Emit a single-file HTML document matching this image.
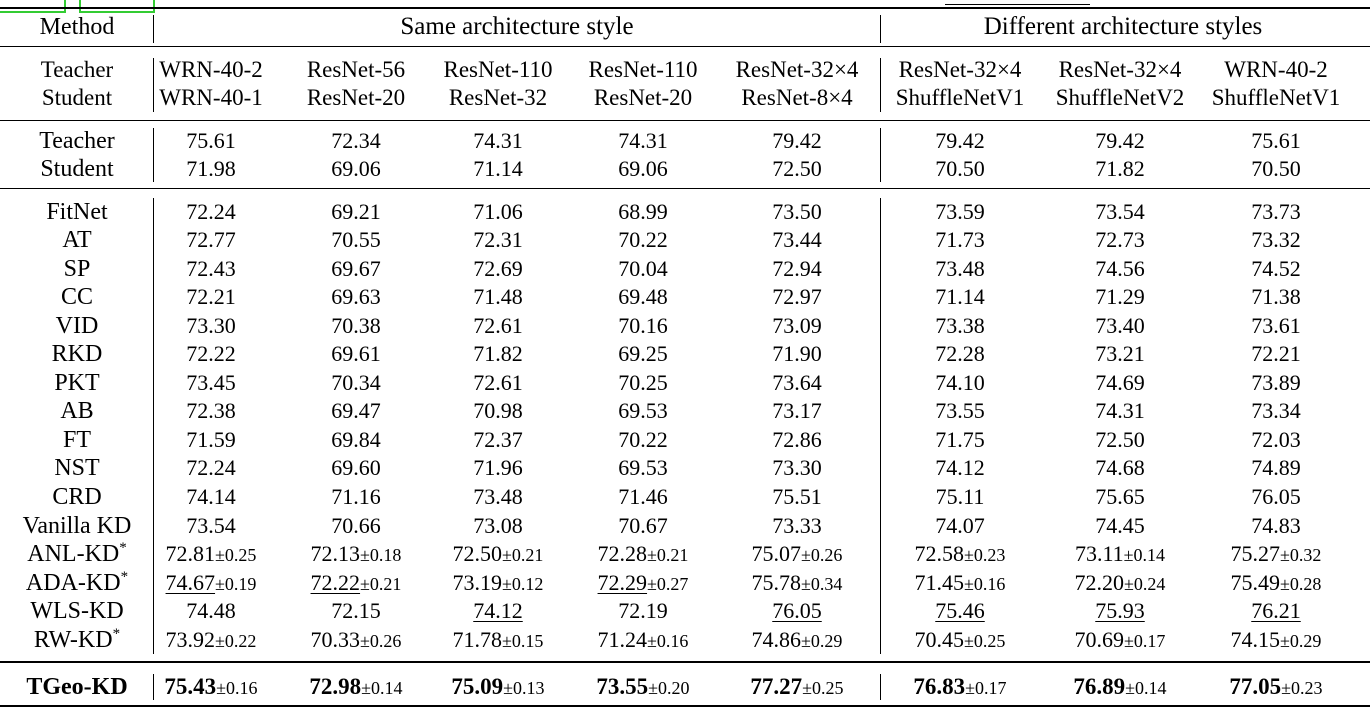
<!DOCTYPE html>
<html><head><meta charset="utf-8"><style>
body{margin:0;width:1370px;height:710px;background:#fff;position:relative;overflow:hidden;font-family:"Liberation Serif",serif;color:#000}
.r{position:absolute;left:0;width:1370px;height:28px;line-height:28px;font-size:22px}
.r span{position:absolute;top:0;width:170px;text-align:center;white-space:nowrap}
.m{left:-8px;font-size:24px}
.t span{font-size:23px}
.a{left:126px}.b{left:271px}.c{left:413px}.d{left:558px}.e{left:712px}
.f{left:875px}.g{left:1035px}.h{left:1191px}
small{font-size:18px}
u{text-decoration:underline;text-underline-offset:3px;text-decoration-thickness:1px}
.hl{position:absolute;left:0;width:1370px;background:#000}
.vl{position:absolute;width:1px;background:#000}
.bold{font-weight:bold}
</style></head><body>
<div style="position:absolute;left:0;top:0;width:64px;height:11px;border:2px solid #3c3;border-top:none;border-left:none"></div>
<div style="position:absolute;left:79px;top:0;width:72px;height:11px;border:2px solid #3c3;border-top:none"></div>
<div style="position:absolute;left:945px;top:4px;width:145px;height:1px;background:#000"></div>
<div class="hl" style="top:7px;height:2px"></div>
<div class="hl" style="top:46px;height:1px"></div>
<div class="hl" style="top:120px;height:1px"></div>
<div class="hl" style="top:188px;height:1px"></div>
<div class="hl" style="top:661px;height:2px"></div>
<div class="hl" style="top:705px;height:2px"></div>
<div class="vl" style="left:153px;top:15px;height:28px"></div>
<div class="vl" style="left:880px;top:15px;height:28px"></div>
<div class="vl" style="left:153px;top:58px;height:54px"></div>
<div class="vl" style="left:880px;top:58px;height:54px"></div>
<div class="vl" style="left:153px;top:128px;height:54px"></div>
<div class="vl" style="left:880px;top:128px;height:54px"></div>
<div class="vl" style="left:153px;top:198px;height:456px"></div>
<div class="vl" style="left:880px;top:198px;height:456px"></div>
<div class="vl" style="left:153px;top:674px;height:26px"></div>
<div class="vl" style="left:880px;top:674px;height:26px"></div>

<div class="r" style="top:13px"><span class="m">Method</span><span style="left:317px;width:400px;font-size:25px">Same architecture style</span><span style="left:923px;width:400px;font-size:25px">Different architecture styles</span></div>
<div class="r t" style="top:56px"><span class="m">Teacher</span><span class="a">WRN-40-2</span><span class="b">ResNet-56</span><span class="c">ResNet-110</span><span class="d">ResNet-110</span><span class="e">ResNet-32×4</span><span class="f">ResNet-32×4</span><span class="g">ResNet-32×4</span><span class="h">WRN-40-2</span></div>
<div class="r t" style="top:84px"><span class="m">Student</span><span class="a">WRN-40-1</span><span class="b">ResNet-20</span><span class="c">ResNet-32</span><span class="d">ResNet-20</span><span class="e">ResNet-8×4</span><span class="f">ShuffleNetV1</span><span class="g">ShuffleNetV2</span><span class="h">ShuffleNetV1</span></div>
<div class="r" style="top:127px"><span class="m">Teacher</span><span class="a">75.61</span><span class="b">72.34</span><span class="c">74.31</span><span class="d">74.31</span><span class="e">79.42</span><span class="f">79.42</span><span class="g">79.42</span><span class="h">75.61</span></div>
<div class="r" style="top:155px"><span class="m">Student</span><span class="a">71.98</span><span class="b">69.06</span><span class="c">71.14</span><span class="d">69.06</span><span class="e">72.50</span><span class="f">70.50</span><span class="g">71.82</span><span class="h">70.50</span></div>
<div class="r" style="top:198px"><span class="m">FitNet</span><span class="a">72.24</span><span class="b">69.21</span><span class="c">71.06</span><span class="d">68.99</span><span class="e">73.50</span><span class="f">73.59</span><span class="g">73.54</span><span class="h">73.73</span></div>
<div class="r" style="top:226px"><span class="m">AT</span><span class="a">72.77</span><span class="b">70.55</span><span class="c">72.31</span><span class="d">70.22</span><span class="e">73.44</span><span class="f">71.73</span><span class="g">72.73</span><span class="h">73.32</span></div>
<div class="r" style="top:255px"><span class="m">SP</span><span class="a">72.43</span><span class="b">69.67</span><span class="c">72.69</span><span class="d">70.04</span><span class="e">72.94</span><span class="f">73.48</span><span class="g">74.56</span><span class="h">74.52</span></div>
<div class="r" style="top:283px"><span class="m">CC</span><span class="a">72.21</span><span class="b">69.63</span><span class="c">71.48</span><span class="d">69.48</span><span class="e">72.97</span><span class="f">71.14</span><span class="g">71.29</span><span class="h">71.38</span></div>
<div class="r" style="top:312px"><span class="m">VID</span><span class="a">73.30</span><span class="b">70.38</span><span class="c">72.61</span><span class="d">70.16</span><span class="e">73.09</span><span class="f">73.38</span><span class="g">73.40</span><span class="h">73.61</span></div>
<div class="r" style="top:340px"><span class="m">RKD</span><span class="a">72.22</span><span class="b">69.61</span><span class="c">71.82</span><span class="d">69.25</span><span class="e">71.90</span><span class="f">72.28</span><span class="g">73.21</span><span class="h">72.21</span></div>
<div class="r" style="top:369px"><span class="m">PKT</span><span class="a">73.45</span><span class="b">70.34</span><span class="c">72.61</span><span class="d">70.25</span><span class="e">73.64</span><span class="f">74.10</span><span class="g">74.69</span><span class="h">73.89</span></div>
<div class="r" style="top:397px"><span class="m">AB</span><span class="a">72.38</span><span class="b">69.47</span><span class="c">70.98</span><span class="d">69.53</span><span class="e">73.17</span><span class="f">73.55</span><span class="g">74.31</span><span class="h">73.34</span></div>
<div class="r" style="top:426px"><span class="m">FT</span><span class="a">71.59</span><span class="b">69.84</span><span class="c">72.37</span><span class="d">70.22</span><span class="e">72.86</span><span class="f">71.75</span><span class="g">72.50</span><span class="h">72.03</span></div>
<div class="r" style="top:454px"><span class="m">NST</span><span class="a">72.24</span><span class="b">69.60</span><span class="c">71.96</span><span class="d">69.53</span><span class="e">73.30</span><span class="f">74.12</span><span class="g">74.68</span><span class="h">74.89</span></div>
<div class="r" style="top:483px"><span class="m">CRD</span><span class="a">74.14</span><span class="b">71.16</span><span class="c">73.48</span><span class="d">71.46</span><span class="e">75.51</span><span class="f">75.11</span><span class="g">75.65</span><span class="h">76.05</span></div>
<div class="r" style="top:512px"><span class="m">Vanilla KD</span><span class="a">73.54</span><span class="b">70.66</span><span class="c">73.08</span><span class="d">70.67</span><span class="e">73.33</span><span class="f">74.07</span><span class="g">74.45</span><span class="h">74.83</span></div>
<div class="r" style="top:540px"><span class="m">ANL-KD<sup style="font-size:15px;line-height:0">*</sup></span><span class="a">72.81<small>±0.25</small></span><span class="b">72.13<small>±0.18</small></span><span class="c">72.50<small>±0.21</small></span><span class="d">72.28<small>±0.21</small></span><span class="e">75.07<small>±0.26</small></span><span class="f">72.58<small>±0.23</small></span><span class="g">73.11<small>±0.14</small></span><span class="h">75.27<small>±0.32</small></span></div>
<div class="r" style="top:569px"><span class="m">ADA-KD<sup style="font-size:15px;line-height:0">*</sup></span><span class="a"><u>74.67</u><small>±0.19</small></span><span class="b"><u>72.22</u><small>±0.21</small></span><span class="c">73.19<small>±0.12</small></span><span class="d"><u>72.29</u><small>±0.27</small></span><span class="e">75.78<small>±0.34</small></span><span class="f">71.45<small>±0.16</small></span><span class="g">72.20<small>±0.24</small></span><span class="h">75.49<small>±0.28</small></span></div>
<div class="r" style="top:597px"><span class="m">WLS-KD</span><span class="a">74.48</span><span class="b">72.15</span><span class="c"><u>74.12</u></span><span class="d">72.19</span><span class="e"><u>76.05</u></span><span class="f"><u>75.46</u></span><span class="g"><u>75.93</u></span><span class="h"><u>76.21</u></span></div>
<div class="r" style="top:626px"><span class="m">RW-KD<sup style="font-size:15px;line-height:0">*</sup></span><span class="a">73.92<small>±0.22</small></span><span class="b">70.33<small>±0.26</small></span><span class="c">71.78<small>±0.15</small></span><span class="d">71.24<small>±0.16</small></span><span class="e">74.86<small>±0.29</small></span><span class="f">70.45<small>±0.25</small></span><span class="g">70.69<small>±0.17</small></span><span class="h">74.15<small>±0.29</small></span></div>
<div class="r" style="top:673px"><span class="m bold">TGeo-KD</span><span class="a"><b style="font-size:23px">75.43</b><small>±0.16</small></span><span class="b"><b style="font-size:23px">72.98</b><small>±0.14</small></span><span class="c"><b style="font-size:23px">75.09</b><small>±0.13</small></span><span class="d"><b style="font-size:23px">73.55</b><small>±0.20</small></span><span class="e"><b style="font-size:23px">77.27</b><small>±0.25</small></span><span class="f"><b style="font-size:23px">76.83</b><small>±0.17</small></span><span class="g"><b style="font-size:23px">76.89</b><small>±0.14</small></span><span class="h"><b style="font-size:23px">77.05</b><small>±0.23</small></span></div>
</body></html>
